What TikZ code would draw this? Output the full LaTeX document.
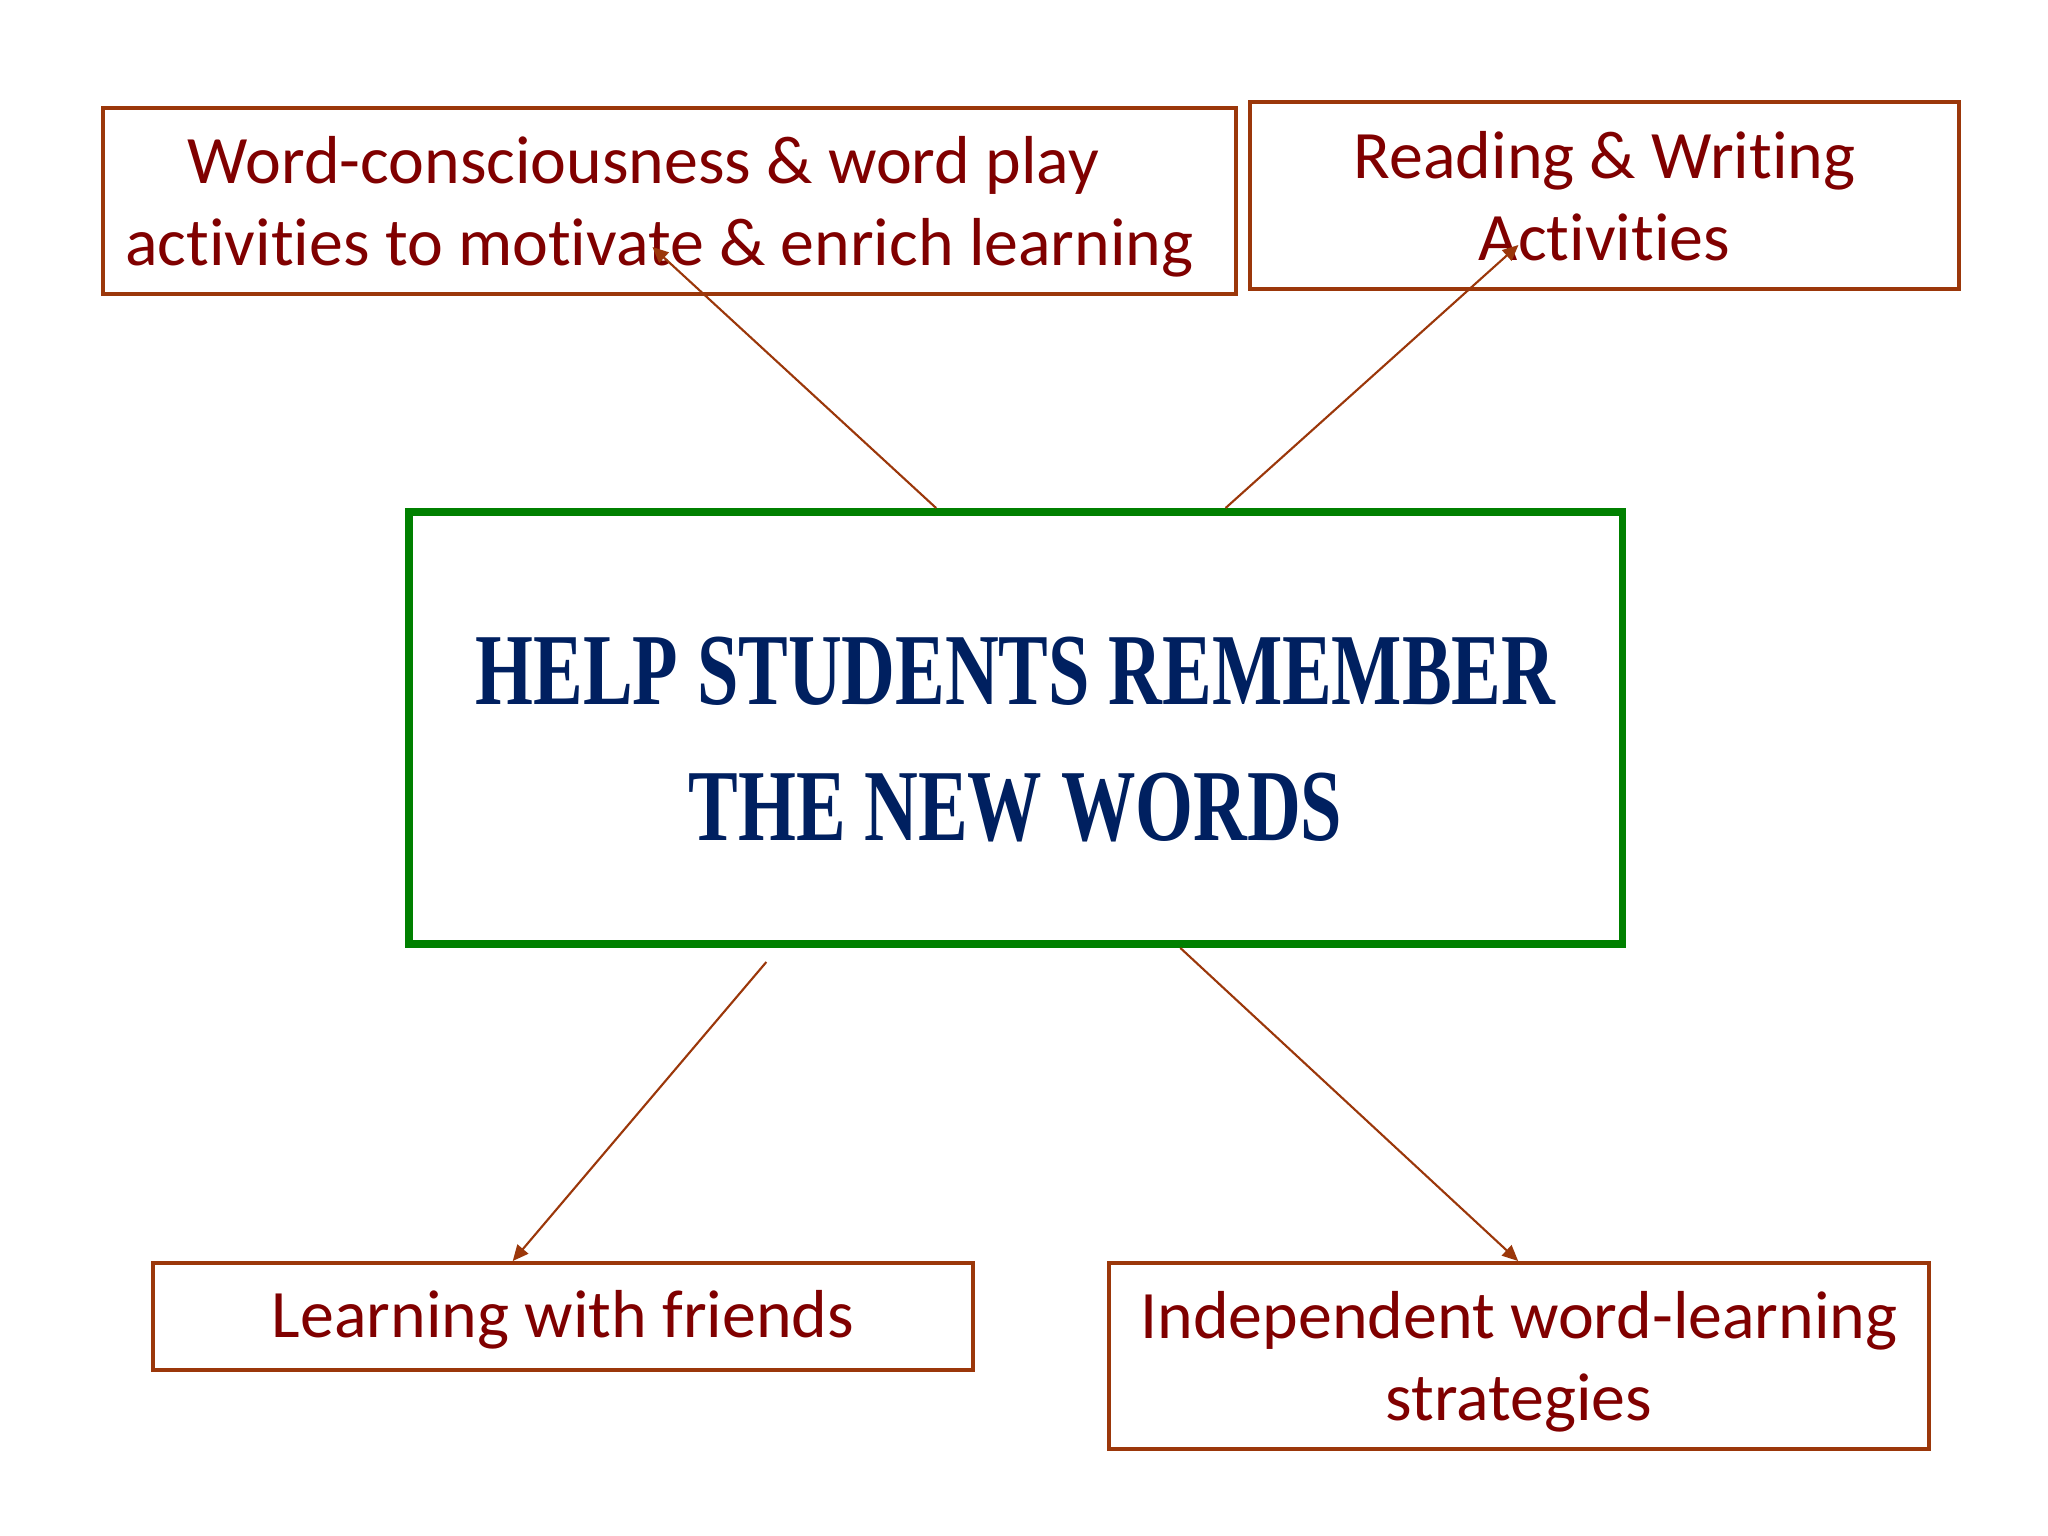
\documentclass[tikz,border=0pt]{standalone}
\usepackage{fontspec}
\setmainfont{Carlito}[Ligatures=NoCommon]
\newfontfamily\headfont[FakeStretch=0.73]{Liberation Serif}
\usetikzlibrary{arrows.meta,calc}
\definecolor{boxline}{RGB}{155,55,10}
\definecolor{boxtext}{RGB}{128,0,0}
\definecolor{headblue}{RGB}{0,32,96}
\definecolor{headgreen}{RGB}{0,128,0}
\newcommand{\mytopst}{\rule{0pt}{18.9pt}}
\newcommand{\mybotst}{\rule[-5.5pt]{0pt}{5.5pt}}
\begin{document}
\begin{tikzpicture}[x=0.01cm,y=-0.01cm,
  item/.style={draw=boxline,line width=1.1pt,text=boxtext,align=center,
    font=\fontsize{19.3}{23.3}\selectfont,inner sep=0pt,rectangle},
  mainbox/.style={draw=headgreen,line width=2.2pt,text=headblue,align=center,
    font=\headfont\bfseries\fontsize{29}{38.7}\selectfont,inner sep=0pt,rectangle},
  conn/.style={draw=boxline,line width=0.6pt,-{Triangle[length=4.5pt,width=4pt]}}]
\fill[white] (0,0) rectangle (2048,1536);
\useasboundingbox (0,0) rectangle (2048,1536);

\node[item,minimum width=11.33cm,minimum height=1.86cm] (tl) at (669.5,201)
  {\mytopst Word-consciousness \& word play\hspace*{14.8pt}\\
   activities to motivate \& enrich learning\hspace*{5.7pt}\mybotst};
\node[item,minimum width=7.09cm,minimum height=1.87cm] (tr) at (1604.5,195.5)
  {\mytopst Reading \& Writing\\ Activities\mybotst};
\node[mainbox,minimum width=12.13cm,minimum height=4.32cm] (c) at (1015.5,728)
  {\rule{0pt}{25.5pt}HELP STUDENTS REMEMBER\\ THE NEW WORDS};
\node[item,minimum width=8.2cm,minimum height=1.07cm] (bl) at (563,1316.5)
  {\rule{0pt}{17.5pt}Learning with friends\mybotst};
\node[item,minimum width=8.2cm,minimum height=1.86cm] (br) at (1519,1356)
  {\mytopst Independent word-learning\\ strategies\mybotst};

\coordinate (s1) at ($(c.north west)!0.435!(c.north east)$);
\coordinate (e1) at ($(tl.south west)!0.485!(tl.south east)+(0,-49)$);
\coordinate (s2) at ($(c.north west)!0.672!(c.north east)$);
\coordinate (e2) at ($(tr.south west)!0.3794!(tr.south east)+(0,-46)$);
\coordinate (s3) at ($(c.south west)!0.296!(c.south east)+(0,14)$);
\coordinate (e3) at ($(bl.north west)!0.439!(bl.north east)$);
\coordinate (s4) at ($(c.south west)!0.635!(c.south east)$);
\coordinate (e4) at ($(br.north west)!0.499!(br.north east)$);

\draw[conn] (s1) -- (e1);
\draw[conn] (s2) -- (e2);
\draw[conn] (s3) -- (e3);
\draw[conn] (s4) -- (e4);
\end{tikzpicture}
\end{document}
